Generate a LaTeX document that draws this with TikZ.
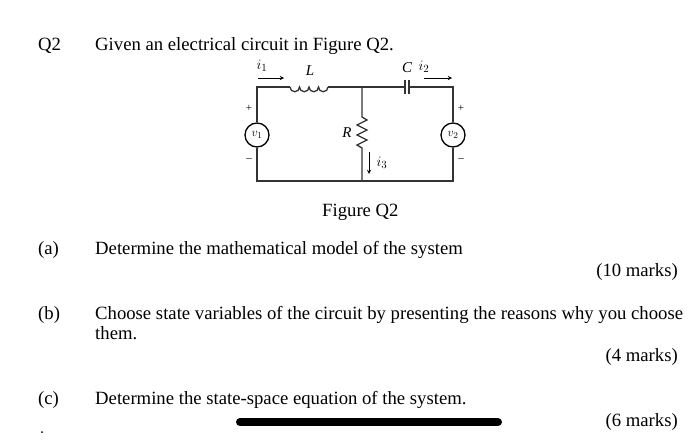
\documentclass[tikz,border=0pt]{standalone}
\usepackage{fontspec}
\setmainfont{Liberation Serif}
\begin{document}
\begin{tikzpicture}[x=1pt,y=-1pt,
  txt/.style={anchor=base west,inner sep=0pt,font=\fontsize{18.7}{22}\selectfont},
  rtxt/.style={anchor=base east,inner sep=0pt,font=\fontsize{18.7}{22}\selectfont},
  wire/.style={line width=1.3pt,black!80},
  lbl/.style={inner sep=0pt,font=\fontsize{15}{16}\selectfont\itshape},
  src/.style={circle,draw,line width=1.3pt,minimum size=24pt,inner sep=0pt,fill=white,font=\fontsize{13}{13}\selectfont}]
\useasboundingbox (0,0) rectangle (700,442);
% texts
\node[txt] (q) at (38,50) {Q2};
\node[txt] (g) at (95,50) {Given an electrical circuit in Figure Q2.};
\node[txt] (fq) at (322,216) {Figure Q2};
\node[txt] (a) at (38,254) {(a)};
\node[txt] (at) at (95,254) {Determine the mathematical model of the system};
\node[rtxt] (am) at (678,276) {(10 marks)};
\node[txt] (b) at (38,319) {(b)};
\node[txt] (bt) at (95,319) {Choose state variables of the circuit by presenting the reasons why you choose};
\node[txt] (bt2) at (95,339) {them.};
\node[rtxt] (bm) at (678,361) {(4 marks)};
\node[txt] (c) at (38,404) {(c)};
\node[txt] (ct) at (95,404) {Determine the state-space equation of the system.};
\node[rtxt] (cm) at (678,426) {(6 marks)};
\draw[line width=8pt,line cap=round] (240,422) -- (498,422);
\fill (42,432) circle (1pt);
% circuit
\coordinate (tl) at (257,87); \coordinate (tr) at (453,87);
\coordinate (bl) at (257,181); \coordinate (br) at (453,181);
\coordinate (tm) at (362,87); \coordinate (bm2) at (362,181);
\node[src] (v1) at (257,135) {\itshape $v_1$};
\node[src] (v2) at (453,135) {\itshape $v_2$};
\draw[wire] (v1.north) -- (tl) -- (290,87);
\draw[wire] (290,87) arc (180:0:4.75) arc (180:0:4.75) arc (180:0:4.75) arc (180:0:4.75);
\draw[wire] (328,87) -- (tm) -- (405,87);
\draw[wire] (405,80) -- (405,94) (409,80) -- (409,94);
\draw[wire] (409,87) -- (tr) -- (v2.north);
\draw[wire] (v2.south) -- (br) -- (bl) -- (v1.south);
\draw[wire] (tm) -- (362,117) -- (367,120) -- (357,125) -- (367,130) -- (357,135) -- (367,140) -- (357,145) -- (362,148) -- (bm2);
\node[lbl] (Ll) at (310,71) {L};
\node[lbl] (Cl) at (407,68) {C};
\node[lbl] (Rl) at (347,133) {R};
\node[lbl] (i1) at (262,66) {$i_1$};
\node[lbl] (i2) at (424,67) {$i_2$};
\node[lbl] (i3) at (382,163) {$i_3$};
\draw[-stealth,line width=0.9pt] (258,78) -- (284,78);
\draw[-stealth,line width=0.9pt] (424,78) -- (452,78);
\draw[-stealth,line width=0.9pt] (369,152) -- (369,174);
\node[lbl,font=\fontsize{11}{11}\selectfont] (p1) at (249,108) {+};
\node[lbl,font=\fontsize{11}{11}\selectfont] (m1) at (249,160) {--};
\node[lbl,font=\fontsize{11}{11}\selectfont] (p2) at (461,108) {+};
\node[lbl,font=\fontsize{11}{11}\selectfont] (m2) at (461,160) {--};
\end{tikzpicture}
\end{document}
